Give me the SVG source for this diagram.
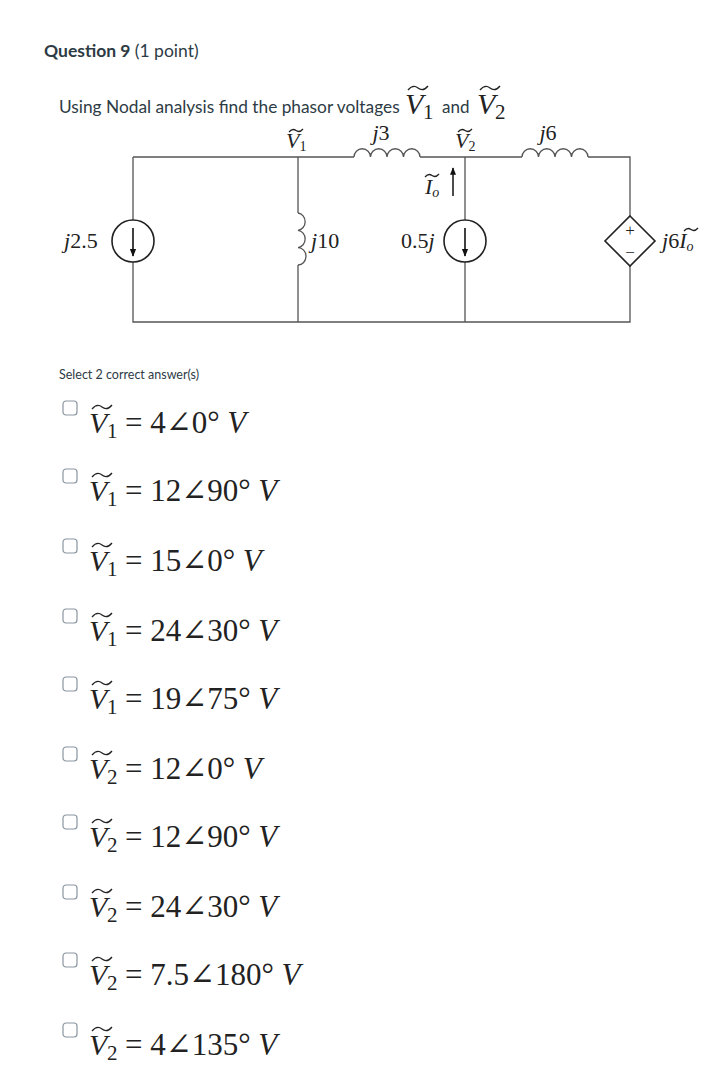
<svg xmlns="http://www.w3.org/2000/svg" width="725" height="1087" viewBox="0 0 725 1087">
<style>
.t{font-family:Lato,"Open Sans",sans-serif;fill:#2d3b45}
.m{font-family:"Liberation Serif","DejaVu Serif",serif;fill:#222}
.l{font-size:22px}
.i{font-style:italic}
.w{stroke:#555;stroke-width:1.3;fill:none}
.k{stroke:#222;stroke-width:1.6;fill:none}
.td{stroke:#222;stroke-width:1.3;fill:none}
.b{fill:#fff;stroke:#8a95a0;stroke-width:1.2}
</style>
<defs>
<marker id="ah" viewBox="0 0 10 10" refX="9" refY="5" markerWidth="5" markerHeight="5" orient="auto"><path d="M0,1 L10,5 L0,9 z" fill="#111"/></marker>
<g id="v1"><text class="m i" x="0" y="0" font-size="30">V</text><text class="m" x="18" y="5" font-size="21">1</text><path class="td" d="M3,-24 q5,-6 10,-2 t10,-2"/></g>
<g id="v2"><text class="m i" x="0" y="0" font-size="30">V</text><text class="m" x="18" y="5" font-size="21">2</text><path class="td" d="M3,-24 q5,-6 10,-2 t10,-2"/></g>
<path id="st" class="td" d="M0,0 q3.5,-4 7,-1.5 t7,-1.5"/>
<rect id="cb" x="0" y="0" width="14" height="14" rx="3" class="b"/>
</defs>
<rect width="725" height="1087" fill="#fff"/>
<text class="t" x="44" y="57" font-size="17.5" font-weight="bold">Question 9 <tspan font-weight="normal">(1 point)</tspan></text>
<text class="t" x="59" y="113" font-size="17.3">Using Nodal analysis find the phasor voltages</text>
<use href="#v1" x="405" y="114"/>
<text class="t" x="442" y="113" font-size="17">and</text>
<use href="#v2" x="477" y="114"/>

<g id="connectors">
<path class="w" d="M133,157 H354 M420,157 H522 M588,157 H630 V216 M630,266 V322 H133 V262 M133,220 V157"/>
<path class="w" d="M298,157 V213 M298,265 V322"/>
<path class="w" d="M465,157 V220 M465,262 V322"/>
<line x1="453" y1="196" x2="453" y2="168" stroke="#111" stroke-width="1.5" marker-end="url(#ah)"/>
</g>
<g id="L3"><path class="w" d="M354,157 a8,8 0 0 1 16.5,0 a8,8 0 0 1 16.5,0 a8,8 0 0 1 16.5,0 a8,8 0 0 1 16.5,0"/></g>
<g id="L6"><path class="w" d="M522,157 a8,8 0 0 1 16.5,0 a8,8 0 0 1 16.5,0 a8,8 0 0 1 16.5,0 a8,8 0 0 1 16.5,0"/></g>
<g id="L10"><path class="w" d="M298,213 a8,8.7 0 0 1 0,17.3 a8,8.7 0 0 1 0,17.3 a8,8.7 0 0 1 0,17.4"/></g>
<g id="S1"><circle cx="133" cy="241" r="21" class="k"/><line x1="133" y1="228" x2="133" y2="256" stroke="#111" stroke-width="1.6" marker-end="url(#ah)"/></g>
<g id="S2"><circle cx="465" cy="241" r="21" class="k"/><line x1="465" y1="228" x2="465" y2="256" stroke="#111" stroke-width="1.6" marker-end="url(#ah)"/></g>
<g id="D"><path class="k" d="M630,216 L655,241 L630,266 L605,241 Z"/><text class="m" x="630" y="236" font-size="17" text-anchor="middle">+</text><text class="m" x="630" y="258" font-size="17" text-anchor="middle">−</text></g>
<g id="labels">
<text class="m l i" x="286" y="148">V<tspan font-style="normal" font-size="14" dy="3">1</tspan></text><use href="#st" x="289" y="132"/>
<text class="m l i" x="455" y="148">V<tspan font-style="normal" font-size="14" dy="3">2</tspan></text><use href="#st" x="458" y="132"/>
<text class="m l i" x="381" y="140" text-anchor="middle">j<tspan font-style="normal">3</tspan></text>
<text class="m l i" x="548" y="140" text-anchor="middle">j<tspan font-style="normal">6</tspan></text>
<text class="m l i" x="425" y="194">I<tspan font-size="14" dy="3">o</tspan></text><use href="#st" x="425" y="177"/>
<text class="m l i" x="64" y="248">j<tspan font-style="normal">2.5</tspan></text>
<text class="m l i" x="311" y="248">j<tspan font-style="normal">10</tspan></text>
<text class="m l" x="401" y="248">0.5<tspan font-style="italic">j</tspan></text>
<text class="m l i" x="662" y="248">j<tspan font-style="normal">6</tspan>I<tspan font-size="14" dy="3">o</tspan></text><use href="#st" x="684" y="231"/>
</g>
<text class="t" x="59" y="379" font-size="12.5">Select 2 correct answer(s)</text>
<g id="answers" class="m" font-size="31">
<use href="#cb" x="63" y="401"/><use href="#v1" x="89" y="433"/><text x="125" y="433">= 4∠0° <tspan class="i">V</tspan></text>
<use href="#cb" x="63" y="469"/><use href="#v1" x="89" y="501"/><text x="125" y="501">= 12∠90° <tspan class="i">V</tspan></text>
<use href="#cb" x="63" y="539"/><use href="#v1" x="89" y="571"/><text x="125" y="571">= 15∠0° <tspan class="i">V</tspan></text>
<use href="#cb" x="63" y="609"/><use href="#v1" x="89" y="641"/><text x="125" y="641">= 24∠30° <tspan class="i">V</tspan></text>
<use href="#cb" x="63" y="677"/><use href="#v1" x="89" y="709"/><text x="125" y="709">= 19∠75° <tspan class="i">V</tspan></text>
<use href="#cb" x="63" y="747"/><use href="#v2" x="89" y="779"/><text x="125" y="779">= 12∠0° <tspan class="i">V</tspan></text>
<use href="#cb" x="63" y="815"/><use href="#v2" x="89" y="847"/><text x="125" y="847">= 12∠90° <tspan class="i">V</tspan></text>
<use href="#cb" x="63" y="885"/><use href="#v2" x="89" y="917"/><text x="125" y="917">= 24∠30° <tspan class="i">V</tspan></text>
<use href="#cb" x="63" y="953"/><use href="#v2" x="89" y="985"/><text x="125" y="985">= 7.5∠180° <tspan class="i">V</tspan></text>
<use href="#cb" x="63" y="1023"/><use href="#v2" x="89" y="1055"/><text x="125" y="1055">= 4∠135° <tspan class="i">V</tspan></text>
</g>
</svg>
